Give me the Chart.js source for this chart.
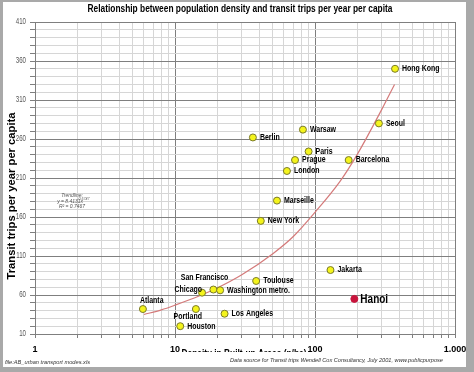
<!DOCTYPE html>
<html>
<head>
<meta charset="utf-8">
<script src="https://cdn.jsdelivr.net/npm/chart.js@4/dist/chart.umd.min.js"></script>
<style>
  html, body { margin: 0; padding: 0; background: #fff; }
  canvas { display: block; }
</style>
</head>
<body>
<canvas id="chart" width="474" height="372"></canvas>
<script>
// values
const cities = ['Hong Kong', 'Seoul', 'Warsaw', 'Berlin', 'Paris', 'Prague', 'Barcelona', 'London',
    'Marseille', 'New York', 'Jakarta', 'Toulouse', 'San Francisco', 'Washington metro.', 'Chicago',
    'Atlanta', 'Portland', 'Los Angeles', 'Houston', 'Hanoi'];
const density = [373, 286, 82, 36, 90, 72, 174, 63, 53.5, 41, 129, 38, 18.8, 21, 15.6, 5.9, 14.1, 22.6, 10.9, 191];
const trips = [350, 280, 272, 262, 244, 233, 233, 219, 181, 155, 92, 78, 67, 66, 63, 42, 42, 36, 20, 55];

// trendline, sampled along the curve in the picture
const trendDensity = [6, 8, 10, 15, 20, 30, 50, 70, 100, 150, 200, 300, 370];
const trendTrips = [35, 41, 47, 59, 69, 86, 113, 135, 166, 205, 240, 298, 330];

const xMajorTicks = [1, 10, 100, 1000];
const xTickLabels = ['1', '10', '100', '1.000'];
const yMin = 10, yMax = 410, yStep = 10, yMajorStep = 50;

const highlightCity = 'Hanoi';
const FONT = 'Arial, "Liberation Sans", sans-serif';

// where a label sits relative to its point (default: right)
const labelPlacement = {
    'Atlanta': { dx: -3, dy: -8, align: 'left' },
    'Portland': { dx: 6, dy: 8, align: 'right' },
    'San Francisco': { dx: 15, dy: -12, align: 'right' },
    'Chicago': { dx: 0, dy: -3, align: 'right' }
};

function drawText(ctx, text, x, y, font, color, align, sx) {
    ctx.save();
    ctx.translate(x, y);
    ctx.scale(sx, 1);
    ctx.font = font;
    ctx.fillStyle = color;
    ctx.textAlign = align;
    ctx.textBaseline = 'middle';
    ctx.fillText(text, 0, 0);
    ctx.restore();
}

function drawFitted(ctx, text, x, y, font, color, align, width) {
    ctx.save();
    ctx.font = font;
    const sx = width / ctx.measureText(text).width;
    ctx.restore();
    drawText(ctx, text, x, y, font, color, align, sx);
}

const isXMajor = v => xMajorTicks.includes(v);
const isYMajor = v => (v - yMin) % yMajorStep === 0;

const framePlugin = {
    id: 'frame',
    beforeDraw(chart) {
        const ctx = chart.ctx;
        ctx.save();
        ctx.fillStyle = '#a9a9a9';
        ctx.fillRect(0, 0, chart.width, chart.height);
        ctx.fillStyle = '#ffffff';
        ctx.fillRect(3, 2, 463, 365);
        ctx.restore();
    },
    afterDraw(chart) {
        const ctx = chart.ctx;
        drawFitted(ctx, 'Relationship between population density and transit trips per year per capita',
            240, 9, 'bold 11px ' + FONT, '#000', 'center', 305);

        // y tick labels, narrow like the original
        const ys = chart.scales.y;
        ys.ticks.forEach(t => {
            if (!isYMajor(t.value)) return;
            drawText(ctx, String(t.value), 26, ys.getPixelForValue(t.value), '8.5px ' + FONT, '#555', 'right', 0.72);
        });

        ctx.save();
        ctx.translate(12, 196);
        ctx.rotate(-Math.PI / 2);
        drawFitted(ctx, 'Transit trips per year per capita', 0, 0, 'bold 10px ' + FONT, '#000', 'center', 167);
        ctx.restore();

        // x axis title, half hidden under the footer like in the original
        ctx.save();
        ctx.beginPath();
        ctx.rect(0, 0, chart.width, 352);
        ctx.clip();
        drawFitted(ctx, 'Density in Built-up Areas (p/ha)', 244, 354.5, 'bold 10px ' + FONT, '#000', 'center', 125);
        ctx.restore();

        drawFitted(ctx, 'file:AB_urban transport modes.xls', 5, 362, 'italic 6px ' + FONT, '#333', 'left', 85);
        drawFitted(ctx, 'Data source for Transit trips Wendell Cox Consultancy, July 2001, www.publicpurpose',
            443, 360, 'italic 6px ' + FONT, '#333', 'right', 213);

        // trendline note
        drawText(ctx, 'Trendline:', 72, 195.5, 'italic 5.5px ' + FONT, '#555', 'center', 0.9);
        drawText(ctx, 'y = 8.4131x', 70, 201, 'italic 5.5px ' + FONT, '#555', 'center', 0.9);
        drawText(ctx, '0.5747', 84, 199, 'italic 4px ' + FONT, '#555', 'center', 0.9);
        drawText(ctx, 'R² = 0.7467', 72, 206.5, 'italic 5.5px ' + FONT, '#555', 'center', 0.9);
    },
    afterDatasetsDraw(chart) {
        const ctx = chart.ctx;
        const meta = chart.getDatasetMeta(0);
        meta.data.forEach((pt, i) => {
            const name = cities[i];
            if (name === highlightCity) {
                drawText(ctx, name, pt.x + 6, pt.y + 0.5, 'bold 12.5px ' + FONT, '#000', 'left', 0.8);
                return;
            }
            const p = labelPlacement[name] || { dx: 7, dy: 0, align: 'left' };
            drawText(ctx, name, pt.x + p.dx, pt.y + p.dy, 'bold 8.5px ' + FONT, '#000', p.align, 0.82);
        });
    }
};

const xGridTicks = [];
for (let d = 1; d < 1000; d *= 10) {
    for (let k = 1; k < 10; k++) xGridTicks.push(k * d);
}
xGridTicks.push(1000);

const yGridTicks = [];
for (let v = yMin; v <= yMax; v += yStep) yGridTicks.push(v);

new Chart(document.getElementById('chart'), {
    type: 'scatter',
    data: {
        datasets: [
            {
                label: 'Cities',
                data: density.map((d, i) => ({ x: d, y: trips[i] })),
                order: 0,
                pointRadius: 3.5,
                pointHoverRadius: 3.5,
                backgroundColor: ctx => cities[ctx.dataIndex] === highlightCity ? '#c8143c' : '#f4f41c',
                borderColor: ctx => cities[ctx.dataIndex] === highlightCity ? '#c8143c' : '#7a7a2a',
                borderWidth: 1
            },
            {
                label: 'Trendline',
                type: 'line',
                data: trendDensity.map((d, i) => ({ x: d, y: trendTrips[i] })),
                order: 1,
                showLine: true,
                pointRadius: 0,
                borderColor: '#d47a7a',
                borderWidth: 1.2,
                cubicInterpolationMode: 'monotone',
                fill: false
            }
        ]
    },
    options: {
        responsive: false,
        animation: false,
        devicePixelRatio: 1,
        layout: { padding: { left: 0, right: 19, top: 22, bottom: 0 } },
        plugins: {
            legend: { display: false },
            tooltip: { enabled: false },
            title: { display: false }
        },
        scales: {
            x: {
                type: 'logarithmic',
                min: 1,
                max: 1000,
                afterBuildTicks: scale => { scale.ticks = xGridTicks.map(v => ({ value: v })); },
                afterFit: scale => { scale.height = 38; },
                border: { color: '#7f7f7f', width: 1 },
                grid: {
                    color: ctx => isXMajor(ctx.tick.value) ? '#7f7f7f' : '#d6d6d6',
                    tickColor: '#7f7f7f',
                    tickLength: 4,
                    drawTicks: true
                },
                ticks: {
                    autoSkip: false,
                    maxRotation: 0,
                    padding: 6,
                    color: '#000',
                    font: { family: FONT, size: 9, weight: 'bold' },
                    callback: v => {
                        const i = xMajorTicks.indexOf(v);
                        return i >= 0 ? xTickLabels[i] : '';
                    }
                }
            },
            y: {
                min: yMin,
                max: yMax,
                afterBuildTicks: scale => { scale.ticks = yGridTicks.map(v => ({ value: v })); },
                afterFit: scale => { scale.width = 35; },
                border: { color: '#7f7f7f', width: 1 },
                grid: {
                    color: ctx => isYMajor(ctx.tick.value) ? '#7f7f7f' : '#d6d6d6',
                    tickColor: '#7f7f7f',
                    tickLength: 5
                },
                ticks: {
                    autoSkip: false,
                    padding: 3,
                    color: 'rgba(0,0,0,0)',
                    font: { family: FONT, size: 8 },
                    callback: () => ''
                }
            }
        }
    },
    plugins: [framePlugin]
});
</script>
</body>
</html>
